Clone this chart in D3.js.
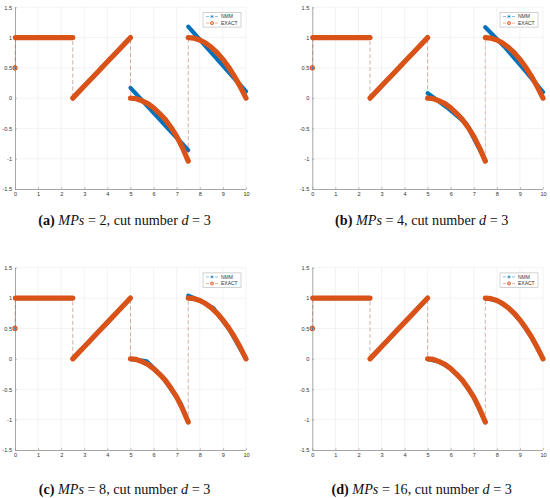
<!DOCTYPE html>
<html>
<head>
<meta charset="utf-8">
<script src="https://cdn.jsdelivr.net/npm/d3@7"></script>
<style>
  html, body { margin: 0; padding: 0; background: #fff; }
  svg { display: block; }
</style>
</head>
<body>
<svg id="chart" width="550" height="498"></svg>
<script>
// ---------------- DATA ----------------
const xTicks = [0, 1, 2, 3, 4, 5, 6, 7, 8, 9, 10];
const yTicks = [-1.5, -1, -0.5, 0, 0.5, 1, 1.5];
const seriesNames = ["NMM", "EXACT"];
const panelLetters = ["a", "b", "c", "d"];
const panelMPs = [2, 4, 8, 16];
const cutNumber = 3;

// EXACT solution: continuous pieces [x, y]
const exactSegments = [
  [[0, 0.5]],
  [[0.02, 1], [0.5, 1], [1, 1], [1.5, 1], [2, 1], [2.5, 1]],
  [[2.5, 0], [3, 0.2], [3.5, 0.4], [4, 0.6], [4.5, 0.8], [5, 1]],
  [[5, 0], [5.25, -0.01], [5.5, -0.045], [5.75, -0.09], [6, -0.16], [6.25, -0.25], [6.5, -0.35], [6.75, -0.48], [7, -0.63], [7.25, -0.82], [7.5, -1.04]],
  [[7.5, 1], [7.75, 0.99], [8, 0.96], [8.25, 0.91], [8.5, 0.84], [8.75, 0.75], [9, 0.64], [9.25, 0.51], [9.5, 0.36], [9.75, 0.19], [10, 0]]
];

// NMM solutions per panel
const nmmA = [
  [[0, 0.5]],
  [[0.02, 1], [2.5, 1]],
  [[2.5, 0], [5, 1]],
  [[5, 0.17], [7.5, -0.86]],
  [[7.5, 1.18], [10, 0.11]]
];
const nmmB = [
  [[0, 0.5]],
  [[0.02, 1], [2.5, 1]],
  [[2.5, 0], [5, 1]],
  [[5, 0.08], [5.83, -0.15], [6.67, -0.42], [7.5, -1.03]],
  [[7.5, 1.17], [8.33, 0.85], [9.17, 0.48], [10, 0.1]]
];
const nmmC = [
  [[0, 0.5]],
  [[0.02, 1], [2.5, 1]],
  [[2.5, 0], [5, 1]],
  [[5, 0], [5.7, -0.04], [6.4, -0.3], [7.15, -0.72], [7.5, -1.04]],
  [[7.5, 1.04], [8, 0.96], [8.6, 0.83], [9.3, 0.47], [10, 0]]
];
const nmmD = [
  [[0, 0.5]],
  [[0.02, 1], [2.5, 1]],
  [[2.5, 0], [5, 1]],
  [[5, 0], [5.5, -0.045], [6, -0.16], [6.5, -0.35], [7, -0.63], [7.5, -1.04]],
  [[7.5, 1], [8, 0.96], [8.5, 0.84], [9, 0.64], [9.5, 0.36], [10, 0]]
];
const nmmPanels = [nmmA, nmmB, nmmC, nmmD];

// ---------------- DRAW ----------------
const BLUE = "#0072BD", ORANGE = "#D95319";
const svg = d3.select("#chart");

const layouts = [
  { left: 15,    right: 246, top: 7.3,   bottom: 189, capY: 225 },
  { left: 312.3, right: 543, top: 7.3,   bottom: 189, capY: 225 },
  { left: 15,    right: 246, top: 267.7, bottom: 450, capY: 494 },
  { left: 312.3, right: 543, top: 267.7, bottom: 450, capY: 494 }
];

const starPath = d3.symbol().type(d3.symbolAsterisk || d3.symbolCross).size(14);

panelLetters.forEach((letter, i) => {
  const L = layouts[i];
  const g = svg.append("g");
  const x = d3.scaleLinear().domain([0, 10]).range([L.left, L.right]);
  const y = d3.scaleLinear().domain([-1.5, 1.5]).range([L.bottom, L.top]);

  // grid
  g.append("g").selectAll("line.gx").data(xTicks.slice(1)).join("line")
    .attr("x1", d => x(d)).attr("x2", d => x(d))
    .attr("y1", L.top).attr("y2", L.bottom)
    .attr("stroke", "#ebebeb").attr("stroke-width", 0.6);
  g.append("g").selectAll("line.gy").data(yTicks.slice(1)).join("line")
    .attr("y1", d => y(d)).attr("y2", d => y(d))
    .attr("x1", L.left).attr("x2", L.right)
    .attr("stroke", "#ebebeb").attr("stroke-width", 0.6);

  // axes
  const xAxis = d3.axisBottom(x).tickValues(xTicks).tickSize(-1.8).tickPadding(3)
    .tickFormat(d3.format("d"));
  const yAxis = d3.axisLeft(y).tickValues(yTicks).tickSize(-1.8).tickPadding(3)
    .tickFormat(d => String(d));
  const gx = g.append("g").attr("transform", `translate(0,${L.bottom})`).call(xAxis);
  const gy = g.append("g").attr("transform", `translate(${L.left},0)`).call(yAxis);
  [gx, gy].forEach(a => {
    a.select(".domain").attr("stroke", "#8f8f8f").attr("stroke-width", 0.8);
    a.selectAll(".tick line").attr("stroke", "#8f8f8f").attr("stroke-width", 0.6);
    a.selectAll(".tick text").attr("fill", "#333").attr("font-size", 5.6)
      .attr("font-family", "Liberation Sans, Arial, sans-serif");
  });
  gy.select(".domain").attr("d", `M0.5,${L.bottom}V${L.top}`);
  gx.select(".domain").attr("d", `M${L.left},0.5H${L.right}`);

  const line = d3.line().x(d => x(d[0])).y(d => y(d[1]));

  function drawSeries(segments, color, marker) {
    const all = segments.flat();
    // thin dashed connecting line
    g.append("path").attr("d", line(all)).attr("fill", "none")
      .attr("stroke", color).attr("stroke-opacity", marker === "o" ? 0.5 : 0.25)
      .attr("stroke-width", 0.7).attr("stroke-dasharray", "4,2.5");
    // dense marker band for each continuous piece
    segments.forEach(seg => {
      if (seg.length > 1) {
        g.append("path").attr("d", line(seg)).attr("fill", "none")
          .attr("stroke", color).attr("stroke-width", marker === "o" ? 5.2 : 4.2)
          .attr("stroke-linecap", "round").attr("stroke-linejoin", "round");
      } else {
        const p = seg[0];
        if (marker === "o") {
          g.append("circle").attr("cx", x(p[0])).attr("cy", y(p[1])).attr("r", 2.1)
            .attr("fill", "none").attr("stroke", color).attr("stroke-width", 1.1);
        } else {
          g.append("path").attr("d", starPath())
            .attr("transform", `translate(${x(p[0])},${y(p[1])})`)
            .attr("fill", color).attr("stroke", color).attr("stroke-width", 0.6);
        }
      }
    });
  }
  drawSeries(nmmPanels[i], BLUE, "*");
  drawSeries(exactSegments, ORANGE, "o");

  // legend
  const lx = L.right - 43, ly = L.top + 5.2, lw = 38, lh = 14.6;
  const lg = g.append("g");
  lg.append("rect").attr("x", lx).attr("y", ly).attr("width", lw).attr("height", lh)
    .attr("fill", "#fff").attr("stroke", "#b5b5b5").attr("stroke-width", 0.6);
  seriesNames.forEach((name, k) => {
    const cy = ly + 4 + k * 6.6;
    const col = k === 0 ? BLUE : ORANGE;
    lg.append("line").attr("x1", lx + 3).attr("x2", lx + 15).attr("y1", cy).attr("y2", cy)
      .attr("stroke", col).attr("stroke-opacity", 0.55).attr("stroke-width", 0.8)
      .attr("stroke-dasharray", "3,1.5");
    if (k === 0) {
      lg.append("path").attr("d", d3.symbol().type(d3.symbolAsterisk || d3.symbolCross).size(8)())
        .attr("transform", `translate(${lx + 9},${cy})`)
        .attr("fill", col).attr("stroke", col).attr("stroke-width", 0.5);
    } else {
      lg.append("circle").attr("cx", lx + 9).attr("cy", cy).attr("r", 1.5)
        .attr("fill", "none").attr("stroke", col).attr("stroke-width", 0.9);
    }
    lg.append("text").attr("x", lx + 18).attr("y", cy + 1.8).text(name)
      .attr("font-size", 5).attr("fill", "#333")
      .attr("font-family", "Liberation Sans, Arial, sans-serif");
  });

  // caption
  const cx = (L.left + L.right) / 2 - 6;
  const cap = svg.append("text").attr("x", cx).attr("y", L.capY)
    .attr("text-anchor", "middle").attr("font-size", 14.2)
    .attr("font-family", "Liberation Serif, Times New Roman, serif").attr("fill", "#111");
  cap.append("tspan").attr("font-weight", "bold").text(`(${letter})`);
  cap.append("tspan").text(" ");
  cap.append("tspan").attr("font-style", "italic").text("MPs");
  cap.append("tspan").text(` = ${panelMPs[i]}, cut number `);
  cap.append("tspan").attr("font-style", "italic").text("d");
  cap.append("tspan").text(` = ${cutNumber}`);
});
</script>
</body>
</html>
